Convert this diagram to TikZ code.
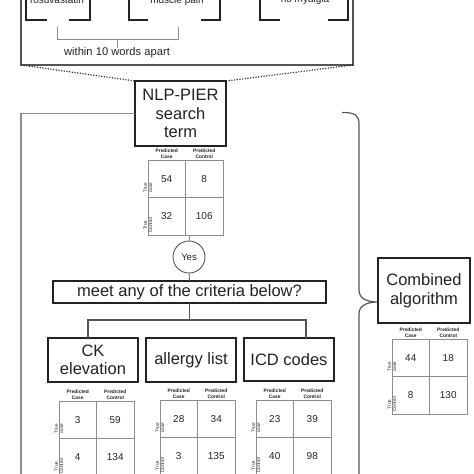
\documentclass[tikz,border=0pt]{standalone}
\usepackage{fontspec}
\setmainfont{Liberation Sans}
\usetikzlibrary{positioning,calc}
\definecolor{ink}{HTML}{222222}
\definecolor{ln}{HTML}{555555}
\definecolor{gridc}{HTML}{8C8C8C}
\tikzset{
  bigbox/.style={draw=ink, line width=1.5pt, text=ink, font=\fontsize{16.5}{18.5}\selectfont, align=center, inner sep=0pt, outer sep=0pt},
  cell/.style={draw=gridc, line width=0.7pt, minimum width=37.5pt, minimum height=37.5pt, inner sep=0pt, outer sep=0pt, text=ink, font=\fontsize{10}{11}\selectfont},
  hdr/.style={font=\fontsize{4.9}{5.6}\selectfont\bfseries, text=ink, align=center, inner sep=0pt, anchor=south},
  side/.style={font=\fontsize{4.7}{5.2}\selectfont, text=ink, align=center, inner sep=0pt, rotate=90},
  conn/.style={draw=ln, line width=1.1pt},
  thin/.style={draw=gridc, line width=0.9pt},
  corner/.style={draw=ink, line width=1.8pt},
  dots/.style={draw=ink, line width=1.2pt, dash pattern=on 1.1pt off 1.6pt},
  toptxt/.style={font=\fontsize{10}{12}\selectfont, text=ink, anchor=base, inner sep=0pt},
}
\newcommand\confmat[7]{%
  \node[cell, anchor=north west] (#1a) at (#2,#3) {#4};
  \node[cell, anchor=north west] (#1b) at (#1a.north east) {#5};
  \node[cell, anchor=north west] (#1c) at (#1a.south west) {#6};
  \node[cell, anchor=north west] (#1d) at (#1a.south east) {#7};
  \node[hdr, yshift=1.2pt] (#1h1) at (#1a.north) {Predicted\\Case};
  \node[hdr, yshift=1.2pt] (#1h2) at (#1b.north) {Predicted\\Control};
  \node[side, xshift=-9pt] (#1s1) at (#1a.west) {True\\case};
  \node[side, xshift=-9pt] (#1s2) at (#1c.west) {True\\Control};
}
\begin{document}
\begin{tikzpicture}[x=1pt,y=-1pt]
\useasboundingbox (0,0) rectangle (474,474);

% top outer box (cut off at top)
\draw[draw=ln, line width=1.2pt] (21,-30) rectangle (353,65);
% corner brackets and partly hidden words
\draw[corner] (26,-10) -- (26,20) -- (47,20);
\draw[corner] (69,20) -- (90,20) -- (90,-10);
\draw[corner] (129,-10) -- (129,20) -- (148,20);
\draw[corner] (201,20) -- (220,20) -- (220,-10);
\draw[corner] (260,-10) -- (260,20) -- (280,20);
\draw[corner] (328,20) -- (348,20) -- (348,-10);
\node[toptxt] (w1) at (57,3.5) {rosuvastatin};
\node[toptxt] (w2) at (177,3.5) {muscle pain};
\node[toptxt] (w3) at (305,2.5) {no myalgia};
% within 10 words bracket
\draw[thin] (57,27) -- (57,39) -- (178,39) -- (178,27);
\coordinate (bm) at (117,39);
\node[font=\fontsize{11.2}{13}\selectfont, text=ink, inner sep=0pt] (within) at (117,53) {within 10 words apart};
\draw[thin] (bm) -- (within.north);

% NLP-PIER
\node[bigbox, minimum width=91pt, minimum height=65pt] (nlp) at (180.5,113.5) {NLP-PIER\\search\\term};
\coordinate (ol) at (21,65);
\coordinate (or) at (353,65);
\draw[dots] (ol) -- (nlp.north west);
\draw[dots] (or) -- (nlp.north east);

\confmat{m0}{148}{160}{54}{8}{32}{106}

% left line
\coordinate (lb) at (21,480);
\draw[draw=gridc, line width=1.2pt] (nlp.west) -| (lb);

% Yes
\node[circle, draw=ln, line width=0.9pt, minimum size=32pt, inner sep=0pt, text=ink, font=\fontsize{9.5}{10}\selectfont] (yes) at (189,257) {Yes};
\coordinate (m0bot) at (189,235);
\draw[thin] (m0bot) -- (yes);

% criteria
\node[bigbox, minimum width=273pt, minimum height=22pt] (crit) at (189.5,292) {meet any of the criteria below?};
\draw[draw=ln, line width=0.9pt] (yes) -- (crit);

\node[bigbox, minimum width=90pt, minimum height=44pt] (ck) at (93,360) {CK\\elevation};
\node[bigbox, minimum width=90pt, minimum height=44pt] (al) at (191,360) {allergy list};
\node[bigbox, minimum width=90pt, minimum height=43pt] (icd) at (289,359.5) {ICD codes};

\coordinate (jm) at (crit.south |- 0,320);
\coordinate (jl) at (88,320);
\coordinate (jr) at (306,320);
\draw[conn] (crit) -- (jm);
\draw[conn] (jl |- ck.north) -- (jl) -- (jr) -- (jr |- icd.north);

\confmat{m1}{59}{401}{3}{59}{4}{134}
\confmat{m2}{160}{400}{28}{34}{3}{135}
\confmat{m3}{256}{400}{23}{39}{40}{98}

% combined
\node[bigbox, minimum width=92pt, minimum height=65pt] (comb) at (424,290.5) {Combined\\algorithm};
\confmat{m4}{392}{339}{44}{18}{8}{130}

% brace
\coordinate (bt) at (342,112.5);
\coordinate (tip) at (comb.west |- 0,302);
\coordinate (bb) at (359,480);
\draw[draw=ln, line width=1.2pt] (bt) .. controls (355,112.5) and (359,115) .. (359,124)
  -- (359,290) .. controls (359,298) and (366,302) .. (tip)
  .. controls (366,302) and (359,306) .. (359,314) -- (bb);
\end{tikzpicture}
\end{document}
